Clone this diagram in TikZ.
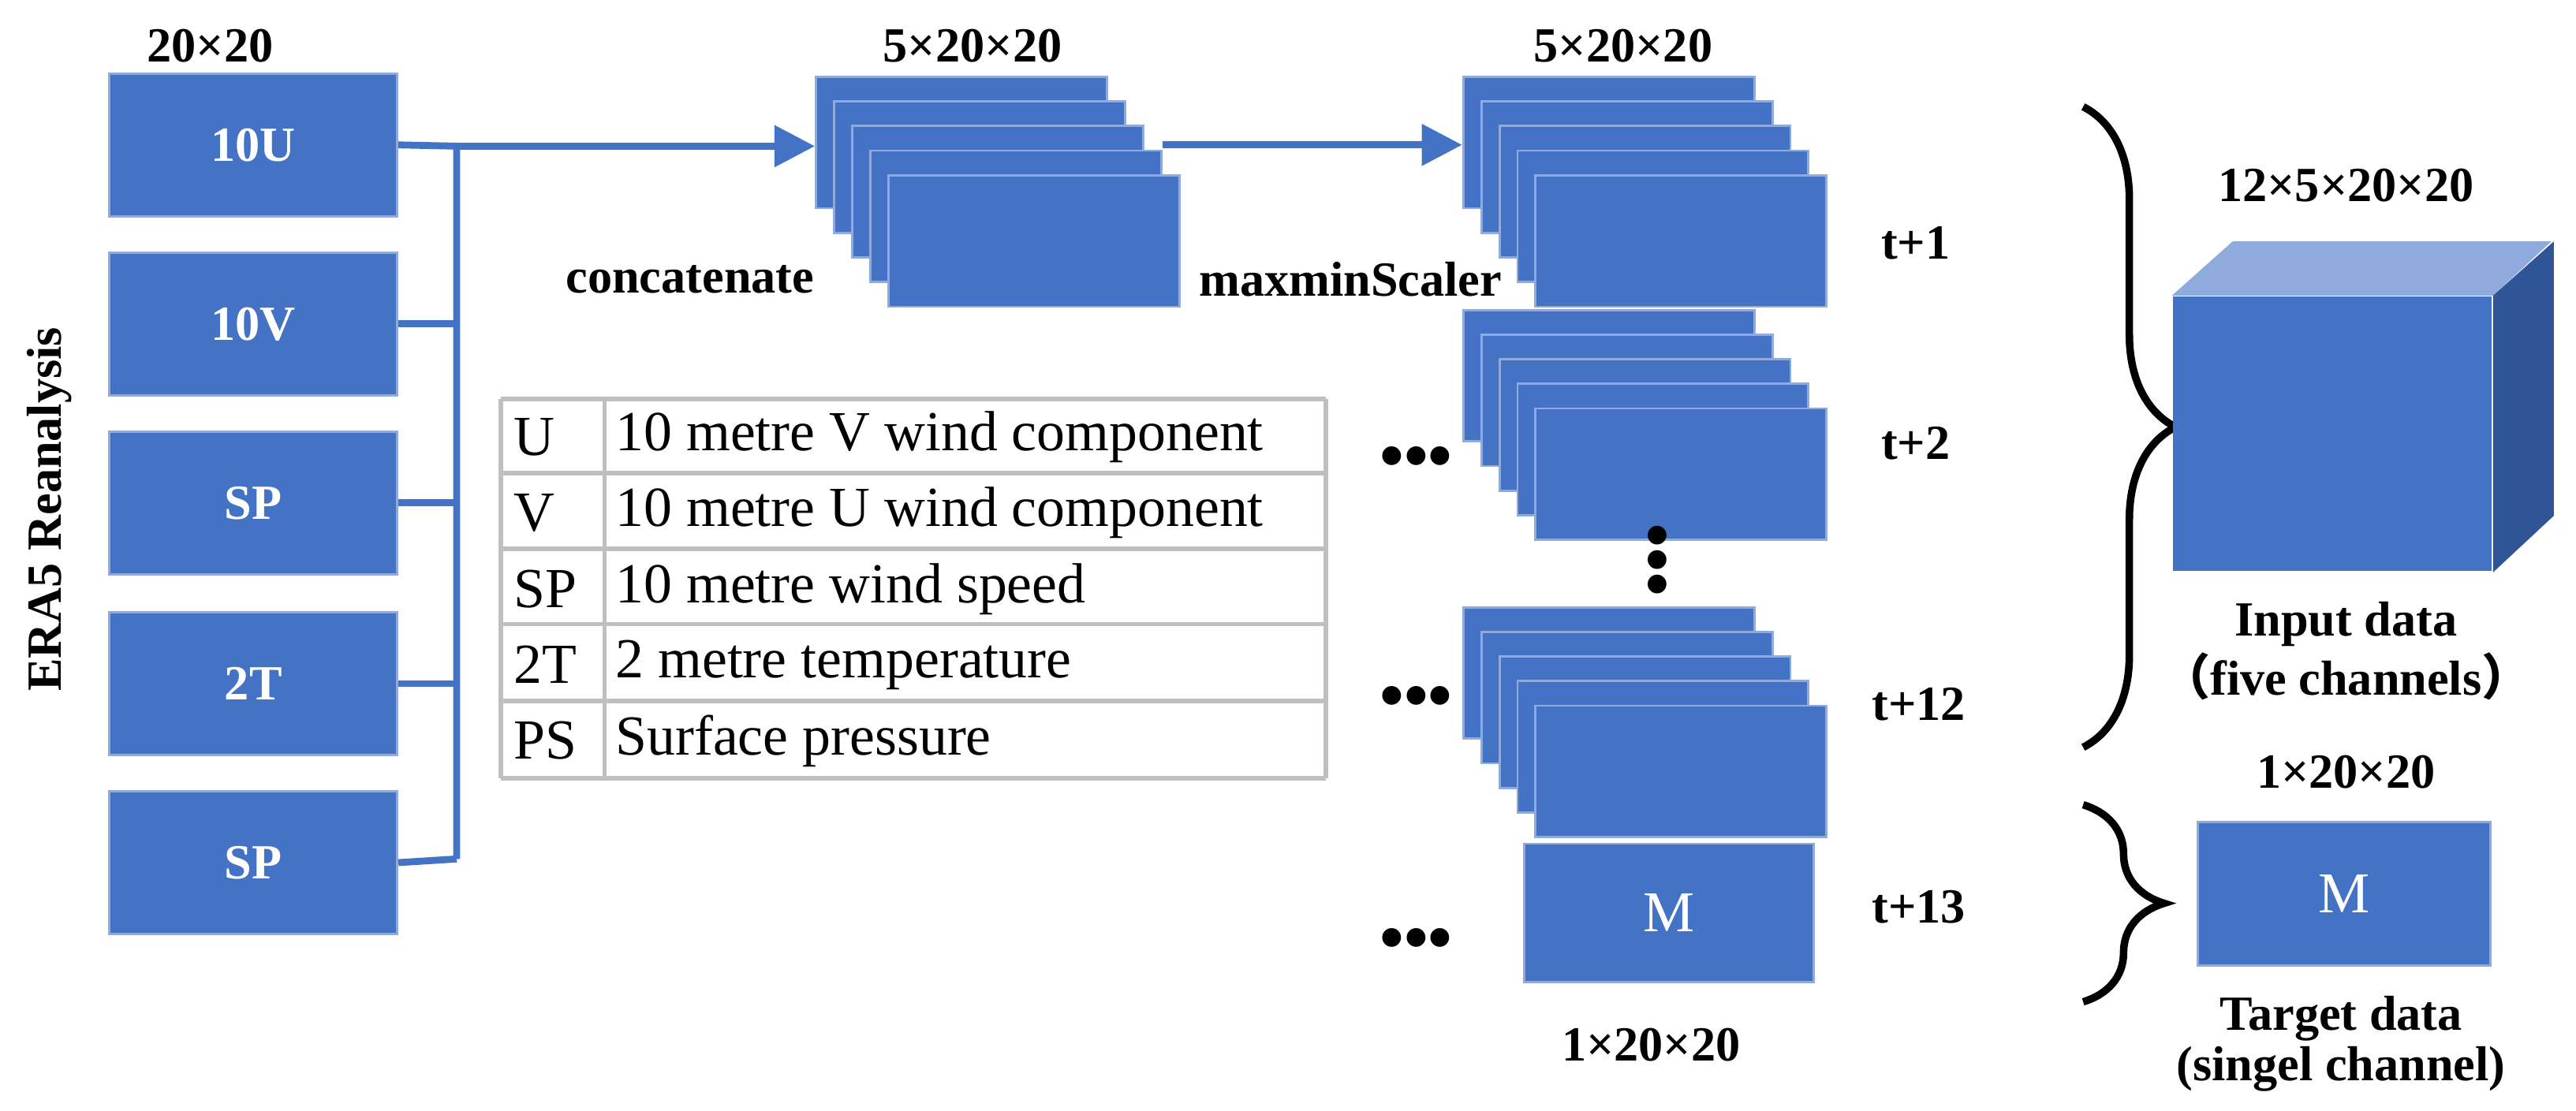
\documentclass[tikz,border=0pt]{standalone}
\usepackage{fontspec}
\setmainfont{Liberation Serif}
\newfontfamily\cjk{Noto Sans CJK SC}
\usetikzlibrary{arrows.meta, decorations.pathreplacing}
\definecolor{blk}{HTML}{4472C4}
\definecolor{blkedge}{HTML}{8FAADC}
\definecolor{blkdark}{HTML}{2F5597}
\definecolor{grid}{HTML}{BFBFBF}
\begin{document}
\begin{tikzpicture}[x=0.01cm, y=-0.01cm,
    var/.style={rectangle, draw=blkedge, fill=blk, text=white, font=\bfseries\fontsize{8.5}{10}\selectfont, minimum width=1.75cm, minimum height=0.87cm, anchor=north west, inner sep=0pt},
    layer/.style={rectangle, draw=blkedge, fill=blk, minimum width=1.77cm, minimum height=0.8cm, anchor=north west, inner sep=0pt},
    lbl/.style={font=\bfseries\fontsize{8.5}{10}\selectfont},
    cell/.style={font=\fontsize{9.8}{11}\selectfont, anchor=west, inner sep=0pt},
    bus/.style={draw=blk, line width=1.2pt},
    arr/.style={bus, -{Triangle[length=7pt, width=7pt]}},
    dots/.style={font=\bfseries\fontsize{12}{12}\selectfont}
]
\useasboundingbox (0,0) rectangle (1568,676);

% input variables
\node[var] (u) at (66,44) {10U};
\node[var] (v) at (66,153) {10V};
\node[var] (sp) at (66,262) {SP};
\node[var] (t) at (66,372) {2T};
\node[var] (sp2) at (66,481) {SP};
\node[lbl] at (128,28) {20×20};
\node[lbl, rotate=90] at (30,310) {ERA5 Reanalysis};

% stacks
\foreach \n/\x/\y in {a/496/46, b/890/46, c/890/188, d/890/369}{
  \foreach \i in {0,...,4}{
    \node[layer] (\n\i) at ({\x+11*\i},{\y+15*\i}) {};
  }
}
\node[layer, minimum width=1.76cm, minimum height=0.84cm, text=white, font=\fontsize{10}{12}\selectfont] (m) at (927,513) {M};

% bus
\coordinate (j1) at (278,89);
\coordinate (j5) at (278,523);
\draw[bus] (u.east) -- (j1) -- (j5);
\draw[bus] (v.east) -- (v.east -| j1);
\draw[bus] (sp.east) -- (sp.east -| j1);
\draw[bus] (t.east) -- (t.east -| j1);
\draw[bus] (sp2.east) -- (j5);
\draw[arr] (j1) -- (j1 -| a0.west);
\draw[arr] (a3.east |- u.east) -- (u.east -| b0.west);

\node[lbl] at (592,28) {5×20×20};
\node[lbl] at (988,28) {5×20×20};
\node[lbl] at (420,170) {concatenate};
\node[lbl] at (822,170) {maxminScaler};
\node[lbl] at (1166,148) {t+1};
\node[lbl] at (1166,270) {t+2};
\node[lbl] at (1168,429) {t+12};
\node[lbl] at (1168,552) {t+13};
\node[lbl] at (1005,636) {1×20×20};
\node[dots] at (862,282) {•••};
\node[dots] at (862,428) {•••};
\node[dots] at (862,575) {•••};
\node[dots, rotate=90] at (1013,341) {•••};

% table
\foreach \yy in {243,288,334,380,427,474}{ \draw[grid, line width=0.8pt] (305,\yy) -- (807,\yy); }
\draw[grid, line width=0.8pt] (305,243) -- (305,474) (368,243) -- (368,474) (807,243) -- (807,474);
\foreach \k/\a/\b [count=\r] in {U/10 metre V wind component, V/10 metre U wind component, SP/10 metre wind speed, 2T/2 metre temperature, PS/Surface pressure}{
  \node[cell] at (312,{243+46.2*\r-23}) {\k};
  \node[cell] at (374,{243+46.2*\r-23}) {\a};
}

% braces
\draw[line width=1.3pt, decorate, decoration={brace, amplitude=16pt}] (1268,65) -- (1268,455);
\draw[line width=1.3pt, decorate, decoration={brace, amplitude=14pt}] (1268,490) -- (1268,610);

% cube
\node[rectangle, fill=blk, minimum width=1.94cm, minimum height=1.67cm, anchor=north west, inner sep=0pt] (cube) at (1322,180) {};
\fill[blkedge] (cube.north west) -- ++(37,-33) -- ++(194,0) -- (cube.north east) -- cycle;
\fill[blkdark] (cube.north east) -- ++(37,-33) -- ++(0,167) -- (cube.south east) -- cycle;
\node[lbl] at (1428,113) {12×5×20×20};
\node[lbl] at (1428,380) {Input data};
\node[lbl] at (1428,412) {{\cjk （}five channels{\cjk ）}};

% target
\node[layer, minimum width=1.78cm, minimum height=0.87cm, text=white, font=\fontsize{10}{12}\selectfont] (tm) at (1337,500) {M};
\node[lbl] at (1428,470) {1×20×20};
\node[lbl] at (1425,620) {Target data};
\node[lbl] at (1425,651) {(singel channel)};
\end{tikzpicture}
\end{document}
